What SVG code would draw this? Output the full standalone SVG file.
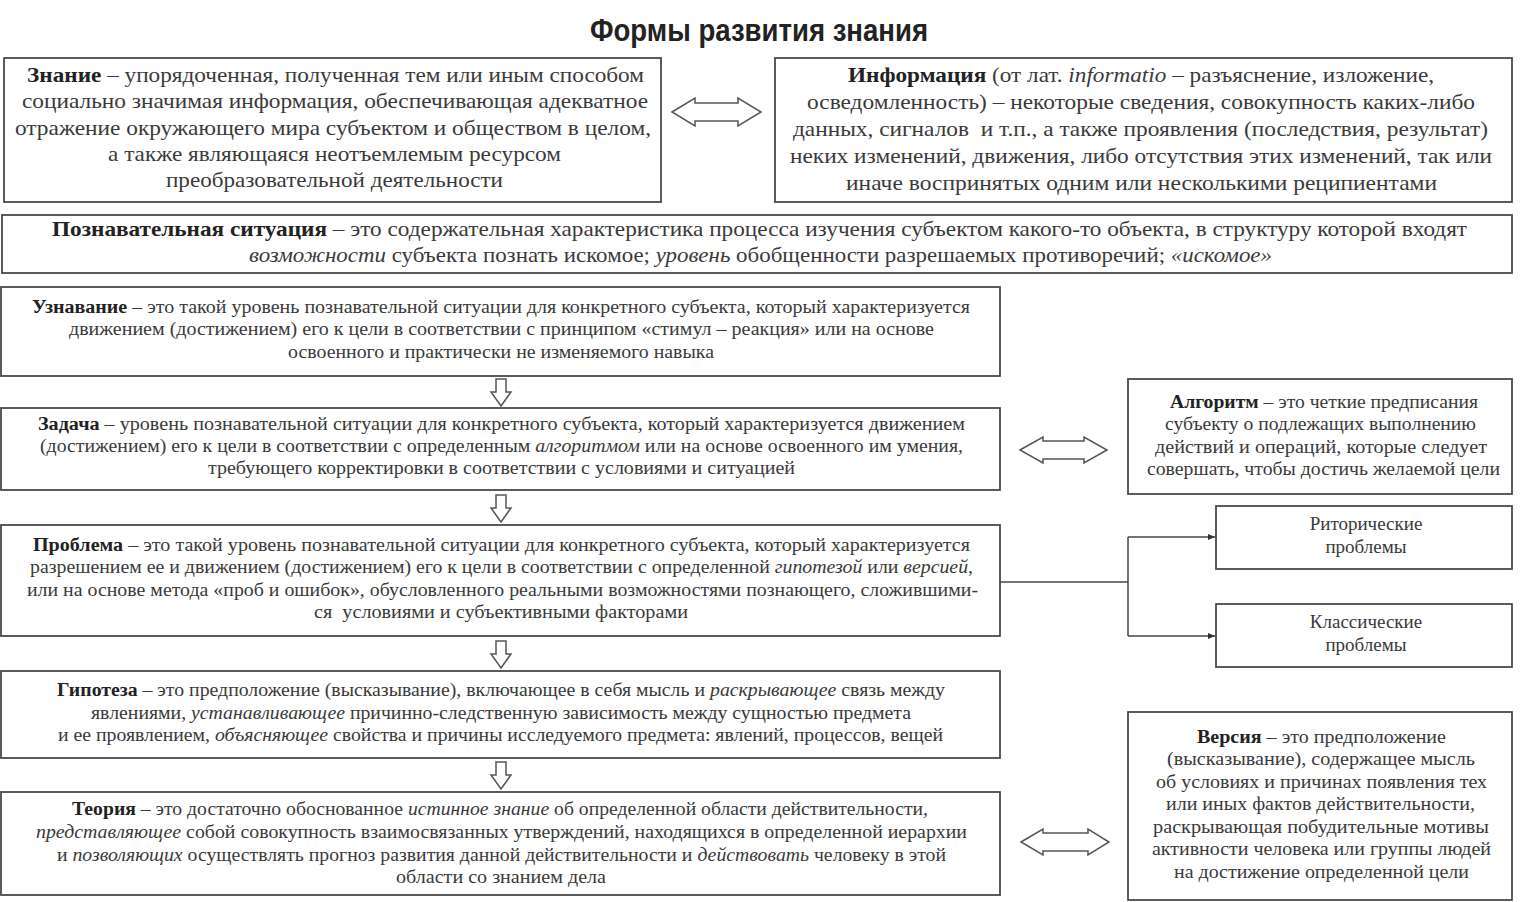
<svg xmlns="http://www.w3.org/2000/svg" width="1520" height="902" viewBox="0 0 1520 902">
<defs>
<style>
.box{fill:#fff;stroke:#4a4a4a;stroke-width:1.8}
.t{font-family:"Liberation Serif","DejaVu Serif",serif;fill:#3a3a3a}
.b{font-weight:bold;fill:#222}
.i{font-style:italic}
.blk{fill:#fff;stroke:#555;stroke-width:1.5;stroke-linejoin:miter}
.ln{fill:none;stroke:#444;stroke-width:1.5}
</style>
<marker id="ah" markerWidth="8" markerHeight="8" refX="7" refY="4" orient="auto" markerUnits="userSpaceOnUse">
<path d="M0,1 L7,4 L0,7 Z" fill="#333"/>
</marker>
</defs>
<rect width="1520" height="902" fill="#fff"/>

<text x="590" y="41" textLength="338" lengthAdjust="spacingAndGlyphs" font-family="'Liberation Sans','DejaVu Sans',sans-serif" font-weight="bold" font-size="31" fill="#222">Формы развития знания</text>

<g id="znanie">
<rect class="box" x="4" y="58" width="657" height="144"/>
<g class="t" font-size="21">
<text x="27" y="82" textLength="617" lengthAdjust="spacingAndGlyphs"><tspan class="b">Знание</tspan> – упорядоченная, полученная тем или иным способом</text>
<text x="22" y="108" textLength="626" lengthAdjust="spacingAndGlyphs">социально значимая информация, обеспечивающая адекватное</text>
<text x="15" y="135" textLength="636" lengthAdjust="spacingAndGlyphs">отражение окружающего мира субъектом и обществом в целом,</text>
<text x="108" y="161" textLength="453" lengthAdjust="spacingAndGlyphs">а также являющаяся неотъемлемым ресурсом</text>
<text x="166" y="187" textLength="337" lengthAdjust="spacingAndGlyphs">преобразовательной деятельности</text>
</g>
</g>

<g id="informaciya">
<rect class="box" x="775" y="58" width="737" height="144"/>
<g class="t" font-size="21">
<text x="848" y="82" textLength="586" lengthAdjust="spacingAndGlyphs"><tspan class="b">Информация</tspan> (от лат. <tspan class="i">informatio</tspan> – разъяснение, изложение,</text>
<text x="807" y="109" textLength="668" lengthAdjust="spacingAndGlyphs">осведомленность) – некоторые сведения, совокупность каких-либо</text>
<text x="793" y="136" textLength="695" lengthAdjust="spacingAndGlyphs" xml:space="preserve">данных, сигналов  и т.п., а также проявления (последствия, результат)</text>
<text x="790" y="163" textLength="702" lengthAdjust="spacingAndGlyphs">неких изменений, движения, либо отсутствия этих изменений, так или</text>
<text x="846" y="190" textLength="591" lengthAdjust="spacingAndGlyphs">иначе воспринятых одним или несколькими реципиентами</text>
</g>
</g>

<g id="situaciya">
<rect class="box" x="2" y="215" width="1510" height="58"/>
<g class="t" font-size="21">
<text x="52" y="236" textLength="1415" lengthAdjust="spacingAndGlyphs"><tspan class="b">Познавательная ситуация</tspan> – это содержательная характеристика процесса изучения субъектом какого-то объекта, в структуру которой входят</text>
<text x="249" y="262" textLength="1023" lengthAdjust="spacingAndGlyphs"><tspan class="i">возможности</tspan> субъекта познать искомое; <tspan class="i">уровень</tspan> обобщенности разрешаемых противоречий; <tspan class="i">«искомое»</tspan></text>
</g>
</g>

<g id="uznavanie">
<rect class="box" x="1" y="287" width="999" height="89"/>
<g class="t" font-size="18">
<text x="32" y="313" textLength="938" lengthAdjust="spacingAndGlyphs"><tspan class="b">Узнавание</tspan> – это такой уровень познавательной ситуации для конкретного субъекта, который характеризуется</text>
<text x="69" y="335" textLength="865" lengthAdjust="spacingAndGlyphs">движением (достижением) его к цели в соответствии с принципом «стимул – реакция» или на основе</text>
<text x="288" y="358" textLength="426" lengthAdjust="spacingAndGlyphs">освоенного и практически не изменяемого навыка</text>
</g>
</g>

<g id="zadacha">
<rect class="box" x="1" y="408" width="999" height="82"/>
<g class="t" font-size="18">
<text x="38" y="430" textLength="927" lengthAdjust="spacingAndGlyphs"><tspan class="b">Задача</tspan> – уровень познавательной ситуации для конкретного субъекта, который характеризуется движением</text>
<text x="40" y="452" textLength="923" lengthAdjust="spacingAndGlyphs">(достижением) его к цели в соответствии с определенным <tspan class="i">алгоритмом</tspan> или на основе освоенного им умения,</text>
<text x="208" y="474" textLength="587" lengthAdjust="spacingAndGlyphs">требующего корректировки в соответствии с условиями и ситуацией</text>
</g>
</g>

<g id="problema">
<rect class="box" x="1" y="525" width="999" height="111"/>
<g class="t" font-size="18">
<text x="33" y="551" textLength="937" lengthAdjust="spacingAndGlyphs"><tspan class="b">Проблема</tspan> – это такой уровень познавательной ситуации для конкретного субъекта, который характеризуется</text>
<text x="30" y="573" textLength="943" lengthAdjust="spacingAndGlyphs">разрешением ее и движением (достижением) его к цели в соответствии с определенной <tspan class="i">гипотезой</tspan> или <tspan class="i">версией</tspan>,</text>
<text x="27" y="596" textLength="951" lengthAdjust="spacingAndGlyphs">или на основе метода «проб и ошибок», обусловленного реальными возможностями познающего, сложившими-</text>
<text x="314" y="618" textLength="374" lengthAdjust="spacingAndGlyphs" xml:space="preserve">ся  условиями и субъективными факторами</text>
</g>
</g>

<g id="gipoteza">
<rect class="box" x="1" y="671" width="999" height="87"/>
<g class="t" font-size="18">
<text x="57" y="696" textLength="888" lengthAdjust="spacingAndGlyphs"><tspan class="b">Гипотеза</tspan> – это предположение (высказывание), включающее в себя мысль и <tspan class="i">раскрывающее</tspan> связь между</text>
<text x="91" y="719" textLength="820" lengthAdjust="spacingAndGlyphs">явлениями, <tspan class="i">устанавливающее</tspan> причинно-следственную зависимость между сущностью предмета</text>
<text x="58" y="741" textLength="885" lengthAdjust="spacingAndGlyphs">и ее проявлением, <tspan class="i">объясняющее</tspan> свойства и причины исследуемого предмета: явлений, процессов, вещей</text>
</g>
</g>

<g id="teoriya">
<rect class="box" x="1" y="792" width="999" height="103"/>
<g class="t" font-size="18">
<text x="72" y="815" textLength="856" lengthAdjust="spacingAndGlyphs"><tspan class="b">Теория</tspan> – это достаточно обоснованное <tspan class="i">истинное знание</tspan> об определенной области действительности,</text>
<text x="36" y="838" textLength="931" lengthAdjust="spacingAndGlyphs"><tspan class="i">представляющее</tspan> собой совокупность взаимосвязанных утверждений, находящихся в определенной иерархии</text>
<text x="57" y="861" textLength="889" lengthAdjust="spacingAndGlyphs">и <tspan class="i">позволяющих</tspan> осуществлять прогноз развития данной действительности и <tspan class="i">действовать</tspan> человеку в этой</text>
<text x="396" y="883" textLength="210" lengthAdjust="spacingAndGlyphs">области со знанием дела</text>
</g>
</g>

<g id="algoritm">
<rect class="box" x="1128" y="379" width="384" height="115"/>
<g class="t" font-size="18">
<text x="1170" y="408" textLength="308" lengthAdjust="spacingAndGlyphs"><tspan class="b">Алгоритм</tspan> – это четкие предписания</text>
<text x="1165" y="430" textLength="311" lengthAdjust="spacingAndGlyphs">субъекту о подлежащих выполнению</text>
<text x="1155" y="453" textLength="332" lengthAdjust="spacingAndGlyphs">действий и операций, которые следует</text>
<text x="1147" y="475" textLength="353" lengthAdjust="spacingAndGlyphs">совершать, чтобы достичь желаемой цели</text>
</g>
</g>

<g id="ritoricheskie">
<rect class="box" x="1216" y="506" width="296" height="63"/>
<g class="t" font-size="19" text-anchor="middle">
<text x="1366" y="530">Риторические</text>
<text x="1366" y="553">проблемы</text>
</g>
</g>

<g id="klassicheskie">
<rect class="box" x="1216" y="604" width="296" height="63"/>
<g class="t" font-size="19" text-anchor="middle">
<text x="1366" y="628">Классические</text>
<text x="1366" y="651">проблемы</text>
</g>
</g>

<g id="versiya">
<rect class="box" x="1128" y="712" width="384" height="188"/>
<g class="t" font-size="18.5">
<text x="1197" y="743" textLength="249" lengthAdjust="spacingAndGlyphs"><tspan class="b">Версия</tspan> – это предположение</text>
<text x="1167" y="765" textLength="308" lengthAdjust="spacingAndGlyphs">(высказывание), содержащее мысль</text>
<text x="1156" y="788" textLength="331" lengthAdjust="spacingAndGlyphs">об условиях и причинах появления тех</text>
<text x="1166" y="810" textLength="309" lengthAdjust="spacingAndGlyphs">или иных фактов действительности,</text>
<text x="1153" y="833" textLength="336" lengthAdjust="spacingAndGlyphs">раскрывающая побудительные мотивы</text>
<text x="1152" y="855" textLength="339" lengthAdjust="spacingAndGlyphs">активности человека или группы людей</text>
<text x="1174" y="878" textLength="295" lengthAdjust="spacingAndGlyphs">на достижение определенной цели</text>
</g>
</g>

<g id="connectors">
<polygon class="blk" points="672,112 695,98 695,103 738,103 738,98 761,112 738,126 738,121 695,121 695,126"/>
<polygon class="blk" points="1020,450 1043,437 1043,441 1084,441 1084,437 1107,450 1084,463 1084,459 1043,459 1043,463"/>
<polygon class="blk" points="1021,842 1043,829 1043,833 1088,833 1088,829 1109,842 1088,855 1088,851 1043,851 1043,855"/>
<polygon class="blk" points="496,379 506,379 506,392 511,392 501,406 491,392 496,392"/>
<polygon class="blk" points="496,495 506,495 506,508 511,508 501,522 491,508 496,508"/>
<polygon class="blk" points="496,641 506,641 506,654 511,654 501,668 491,654 496,654"/>
<polygon class="blk" points="496,762 506,762 506,775 511,775 501,789 491,775 496,775"/>
<path class="ln" d="M1000,582 H1128"/>
<path class="ln" d="M1128,537 V636"/>
<path class="ln" d="M1128,537 H1215" marker-end="url(#ah)"/>
<path class="ln" d="M1128,636 H1215" marker-end="url(#ah)"/>
</g>
</svg>
